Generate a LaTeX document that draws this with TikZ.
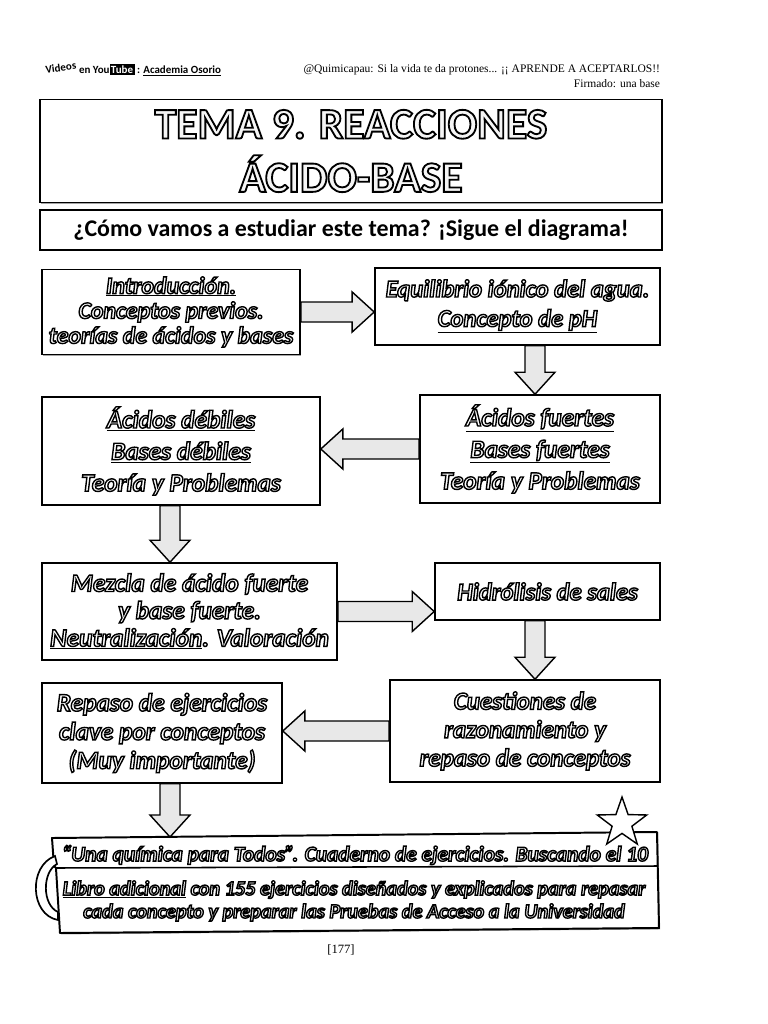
\documentclass[tikz,border=0pt]{standalone}
\usepackage{fontspec}
\setmainfont{Carlito}
\newfontfamily\headserif{Liberation Serif}
\usetikzlibrary{calc,shadows,shapes.geometric}

% outlined letters: white fill, black stroke
\newcommand{\olt}[2][1]{\special{pdf:literal direct 0 G 2 Tr #1 w}#2\special{pdf:literal direct 0 Tr}}
\newcommand{\ult}[1]{{\color{black}\underline{\color{white}\special{pdf:literal direct 0 G}#1}}\special{pdf:literal direct 0 G}}

% block arrows between boxes
\newcommand{\rightblock}[2]{%
  \path (#1) coordinate (s) (#1 -| #2) coordinate (t);
  \draw[blockarrow] ($(s)+(0,-10)$) -- ($(t)+(-22,-10)$) -- ($(t)+(-22,-20)$) -- (t)
    -- ($(t)+(-22,20)$) -- ($(t)+(-22,10)$) -- ($(s)+(0,10)$) -- cycle;}
\newcommand{\leftblock}[2]{%
  \path (#1) coordinate (s) (#1 -| #2) coordinate (t);
  \draw[blockarrow] ($(s)+(0,-10)$) -- ($(t)+(22,-10)$) -- ($(t)+(22,-20)$) -- (t)
    -- ($(t)+(22,20)$) -- ($(t)+(22,10)$) -- ($(s)+(0,10)$) -- cycle;}
\newcommand{\downblock}[3]{%
  \path (#3,0 |- #1) coordinate (s) (#3,0 |- #2) coordinate (t);
  \draw[blockarrow] ($(s)+(-10,0)$) -- ($(t)+(-10,-22)$) -- ($(t)+(-20,-22)$) -- (t)
    -- ($(t)+(20,-22)$) -- ($(t)+(10,-22)$) -- ($(s)+(10,0)$) -- cycle;}

\tikzset{
  flowbox/.style 2 args={draw, line width=1.1pt, fill=white, align=center, inner sep=2pt,
    drop shadow={shadow xshift=0.8pt, shadow yshift=-0.8pt, fill=black!70},
    text=white, font=\bfseries\itshape\fontsize{#1}{#2}\selectfont},
  blockarrow/.style={draw, line width=1pt, fill=gray!18, line join=miter},
  headbox/.style={draw, line width=1.1pt, fill=white, align=center,
    drop shadow={shadow xshift=0.8pt, shadow yshift=-0.8pt, fill=black!70}},
}

\begin{document}
\begin{tikzpicture}[x=0.025cm, y=-0.025cm]
\useasboundingbox (0,0) rectangle (768,1024);
\fill[white] (0,0) rectangle (768,1024);

% page header
\node[font=\bfseries\fontsize{7.8}{9}\selectfont, anchor=west] (yt) at (40,69)
  {\rotatebox{8}{Videos} en You{\setlength\fboxsep{1pt}\colorbox{black}{\textcolor{white}{Tube}}} : \underline{Academia Osorio}};
\node[font=\headserif\fontsize{8.2}{10}\selectfont, anchor=east] (motto) at (665,70)
  {@Quimicapau: Si la vida te da protones... ¡¡ APRENDE A ACEPTARLOS!!};
\node[font=\headserif\fontsize{8.2}{10}\selectfont, anchor=east] (firma) at (665,84)
  {Firmado: una base};

% title
\node[headbox, minimum width=15.55cm, minimum height=2.575cm, text=gray!8,
  font=\bfseries\fontsize{31}{38}\selectfont] (title) at (351,151)
  {\olt[1.3]{TEMA 9. REACCIONES}\\ \olt[1.3]{ÁCIDO-BASE}};
\node[headbox, minimum width=15.55cm, minimum height=1cm,
  font=\bfseries\fontsize{17}{19}\selectfont] (sub) at (351,230)
  {¿Cómo vamos a estudiar este tema? ¡Sigue el diagrama!};

% boxes
\node[flowbox={17}{17.7}, minimum width=6.45cm, minimum height=2.125cm] (intro) at (171,312)
  {\olt{\ult{Introducción.}}\\ \olt{Conceptos previos.}\\ \olt{teorías de ácidos y bases}};
\node[flowbox={17.5}{21}, minimum width=7.125cm, minimum height=1.925cm] (agua) at (517.5,306.5)
  {\olt{Equilibrio iónico del agua.}\\ \olt{\ult{Concepto de pH}}};
\node[flowbox={18}{22.5}, minimum width=6cm, minimum height=2.7cm] (fuertes) at (540,449)
  {\olt{\ult{Ácidos fuertes}}\\ \olt{\ult{Bases fuertes}}\\ \olt{Teoría y Problemas}};
\node[flowbox={18}{22.5}, minimum width=6.95cm, minimum height=2.7cm] (debiles) at (181,451)
  {\olt{\ult{Ácidos débiles}}\\ \olt{\ult{Bases débiles}}\\ \olt{Teoría y Problemas}};
\node[flowbox={18}{19.5}, minimum width=7.375cm, minimum height=2.425cm] (mezcla) at (189.5,611.5)
  {\olt{Mezcla de ácido fuerte}\\ \olt{y base fuerte.}\\ \olt{\ult{Neutralización}. Valoración}};
\node[flowbox={17.5}{19}, minimum width=5.625cm, minimum height=1.425cm] (sales) at (547.5,591.5)
  {\olt{Hidrólisis de sales}};
\node[flowbox={17.8}{20.2}, minimum width=6.75cm, minimum height=2.55cm] (cuest) at (525,731)
  {\olt{Cuestiones de}\\ \olt{razonamiento y}\\ \olt{repaso de conceptos}};
\node[flowbox={18}{20.5}, minimum width=6cm, minimum height=2.5cm] (repaso) at (162,733)
  {\olt{Repaso de ejercicios}\\ \olt{clave por conceptos}\\ \olt{(Muy importante)}};

% banner
\filldraw[fill=white, line width=1.4pt, line join=round,
  drop shadow={shadow xshift=0.8pt, shadow yshift=-1pt, fill=black!70}]
  (52,838) -- (657,832) -- (659,928) -- (60,933) -- (56,868) -- (54,866) -- cycle;
\draw[line width=1.1pt] (55,868) -- (658,866);
\filldraw[fill=white, line width=1.2pt] (55,856) .. controls (28,866) and (30,915) .. (58,920)
  -- (58,912) .. controls (42,905) and (42,872) .. (57,864) -- cycle;
\coordinate (bannertop) at (170,837);
\node[star, star points=5, star point ratio=2.5, draw, line width=1pt, fill=white,
  minimum size=1.3cm, inner sep=0pt] (star) at (622,823) {};
\node[text=white, font=\bfseries\itshape\fontsize{15.2}{17}\selectfont] (libro1) at (355,855)
  {\olt{“Una química para Todos”. Cuaderno de ejercicios. Buscando el 10}};
\node[text=white, align=center, font=\bfseries\itshape\fontsize{14.4}{16.3}\selectfont] (libro2) at (354,901)
  {\olt{\ult{Libro adicional} con 155 ejercicios diseñados y explicados para repasar}\\
   \olt{cada concepto y preparar las Pruebas de Acceso a la Universidad}};

% arrows
\rightblock{intro.east}{agua.west}
\downblock{agua.south}{fuertes.north}{535}
\leftblock{fuertes.west}{debiles.east}
\downblock{debiles.south}{mezcla.north}{170}
\rightblock{mezcla.east}{sales.west}
\downblock{sales.south}{cuest.north}{535}
\leftblock{cuest.west}{repaso.east}
\downblock{repaso.south}{bannertop}{170}

\node[font=\headserif\fontsize{9}{10}\selectfont] (page) at (341,950) {[177]};
\end{tikzpicture}
\end{document}
